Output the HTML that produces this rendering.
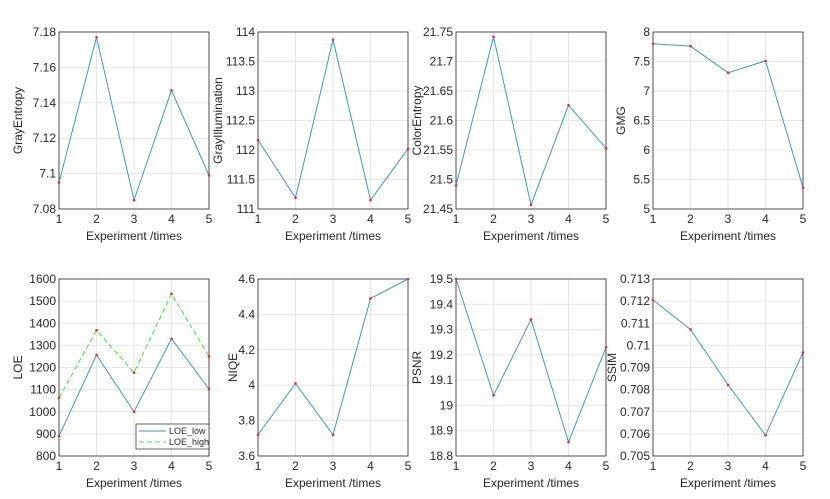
<!DOCTYPE html>
<html><head><meta charset="utf-8"><style>
body{margin:0;background:#fff;width:830px;height:494px;overflow:hidden}
svg text{font-family:"Liberation Sans",sans-serif;fill:#262626}
</style></head><body>
<svg id="fig" width="830" height="494" xmlns="http://www.w3.org/2000/svg"></svg>
<script>
const categories=[1,2,3,4,5];
const grayEntropy=[7.095,7.177,7.085,7.147,7.099];
const grayIllum=[112.17,111.19,113.87,111.15,112.02];
const colorEntropy=[21.490,21.742,21.457,21.626,21.553];
const gmg=[7.80,7.76,7.31,7.51,5.36];
const loeLow=[890,1257,1000,1330,1103];
const loeHigh=[1063,1368,1177,1533,1250];
const niqe=[3.72,4.01,3.72,4.49,4.60];
const psnr=[19.50,19.04,19.34,18.855,19.23];
const ssim=[0.71205,0.71072,0.70822,0.70594,0.70968];
const ticksGE=[7.08,7.1,7.12,7.14,7.16,7.18];
const ticksGI=[111,111.5,112,112.5,113,113.5,114];
const ticksCE=[21.45,21.5,21.55,21.6,21.65,21.7,21.75];
const ticksGMG=[5,5.5,6,6.5,7,7.5,8];
const ticksLOE=[800,900,1000,1100,1200,1300,1400,1500,1600];
const ticksNIQE=[3.6,3.8,4,4.2,4.4,4.6];
const ticksPSNR=[18.8,18.9,19,19.1,19.2,19.3,19.4,19.5];
const ticksSSIM=[0.705,0.706,0.707,0.708,0.709,0.71,0.711,0.712,0.713];

const NS="http://www.w3.org/2000/svg";
const svg=document.getElementById('fig');
function mk(tag,attrs,parent){const e=document.createElementNS(NS,tag);for(const k in attrs)e.setAttribute(k,attrs[k]);(parent||svg).appendChild(e);return e;}
function fmt(v){return String(+v.toFixed(4));}

const panels=[
 {name:'gray-entropy',label:'GrayEntropy',series:[grayEntropy],ticks:ticksGE,x:59,y:32,h:177,lx:22},
 {name:'gray-illumination',label:'GrayIllumination',series:[grayIllum],ticks:ticksGI,x:258,y:32,h:177,lx:222},
 {name:'color-entropy',label:'ColorEntropy',series:[colorEntropy],ticks:ticksCE,x:456,y:32,h:177,lx:421},
 {name:'gmg',label:'GMG',series:[gmg],ticks:ticksGMG,x:653,y:32,h:177,lx:625},
 {name:'loe',label:'LOE',series:[loeLow,loeHigh],ticks:ticksLOE,x:59,y:279,h:177,legend:true,lx:22},
 {name:'niqe',label:'NIQE',series:[niqe],ticks:ticksNIQE,x:258,y:279,h:177,lx:237},
 {name:'psnr',label:'PSNR',series:[psnr],ticks:ticksPSNR,x:456,y:279,h:177,lx:421},
 {name:'ssim',label:'SSIM',series:[ssim],ticks:ticksSSIM,x:653,y:279,h:177,lx:616}
];
const W=150;
panels.forEach(p=>{
 const g=mk('g',{});
 
 
 const t0=p.ticks[0],t1=p.ticks[p.ticks.length-1];
 const sx=v=>p.x+(v-1)/4*W;
 const sy=v=>p.y+p.h-(v-t0)/(t1-t0)*p.h;
 mk('rect',{x:p.x,y:p.y,width:W,height:p.h,fill:'#fff'},g);
 categories.forEach(c=>{
  mk('line',{x1:sx(c),x2:sx(c),y1:p.y,y2:p.y+p.h,stroke:'#e6e6e6','stroke-width':1},g);
  const t=mk('text',{x:sx(c),y:p.y+p.h+14,'text-anchor':'middle','font-size':12},g);t.textContent=c;
 });
 p.ticks.forEach(v=>{
  mk('line',{x1:p.x,x2:p.x+W,y1:sy(v),y2:sy(v),stroke:'#e6e6e6','stroke-width':1},g);
  const t=mk('text',{x:p.x-3,y:sy(v)+4,'text-anchor':'end','font-size':12},g);t.textContent=fmt(v);
 });
 mk('rect',{x:p.x,y:p.y,width:W,height:p.h,fill:'none',stroke:'#262626','stroke-width':0.8},g);
 const xl=mk('text',{x:p.x+W/2,y:p.y+p.h+31,'text-anchor':'middle','font-size':12},g);xl.textContent='Experiment /times';
 
 const lx=p.lx,ly=p.y+p.h/2;
 const yl=mk('text',{x:lx,y:ly,'text-anchor':'middle','font-size':12,transform:`rotate(-90 ${lx} ${ly})`},g);yl.textContent=p.label;
 
 p.series.forEach((s,i)=>{
  const pts=s.map((v,j)=>sx(categories[j])+','+sy(v)).join(' ');
  const l=mk('polyline',{points:pts,fill:'none',stroke:i==0?'#3c96d2':'#33ee33','stroke-width':1,'stroke-dasharray':i==0?'none':'5 3'},g);
  
  
  s.forEach((v,j)=>{
   const d=mk('circle',{cx:sx(categories[j]),cy:sy(v),r:1.3,fill:'#ff2020'},g);
   
   
  });
 });
 if(p.legend){
  const lg=mk('g',{},g);
  
  
  mk('rect',{x:136,y:424,width:73,height:25,fill:'#fff',stroke:'#262626','stroke-width':0.7},lg);
  mk('line',{x1:139,x2:166,y1:431,y2:431,stroke:'#3c96d2'},lg);
  mk('line',{x1:139,x2:166,y1:442,y2:442,stroke:'#33ee33','stroke-dasharray':'5 3'},lg);
  const a=mk('text',{x:169,y:434,'font-size':9},lg);a.textContent='LOE_low';
  const b=mk('text',{x:169,y:445,'font-size':9},lg);b.textContent='LOE_high';
 }
});
</script>
</body></html>
